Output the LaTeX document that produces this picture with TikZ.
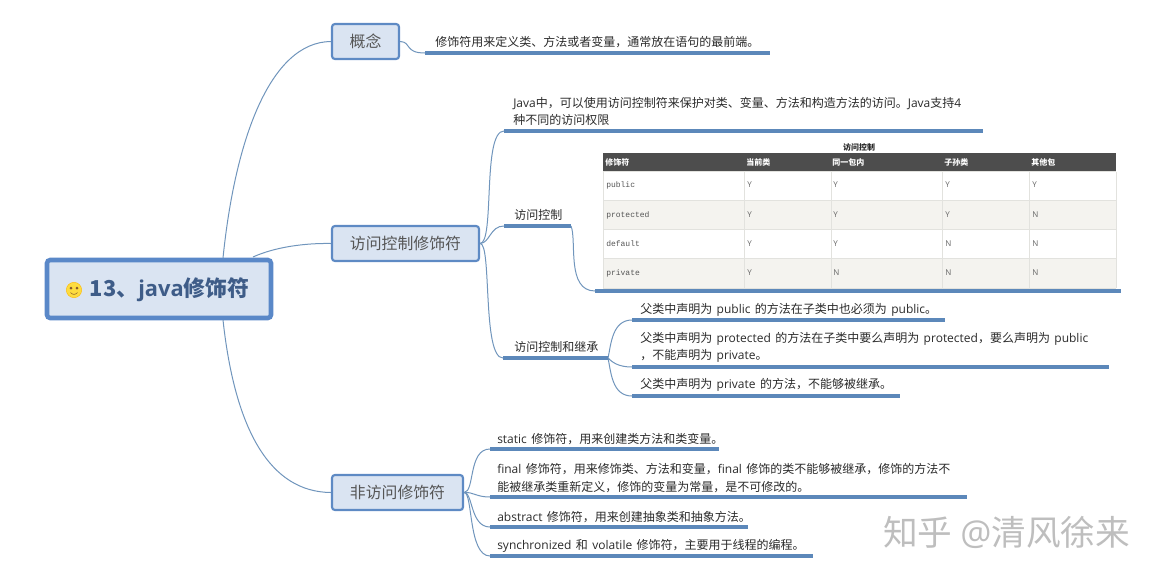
\documentclass[tikz,border=0pt]{standalone}
\usepackage{fontspec}
\setmainfont{Noto Sans CJK SC}
\newfontfamily\lat{Open Sans}
\newfontfamily\tmono{Liberation Mono}
\newcommand{\LL}[1]{{\lat #1}}
\newcommand{\ws}{\hspace{3.3pt}}
\newcommand{\lowr}[1]{\raisebox{-0.7pt}{#1}}
\definecolor{nodefill}{HTML}{DAE4F2}
\definecolor{nodeline}{HTML}{5E8AC4}
\definecolor{rootline}{HTML}{5A88C8}
\definecolor{roottext}{HTML}{3E5C88}
\definecolor{conn}{HTML}{7095BC}
\definecolor{ulinec}{HTML}{5C88BA}
\definecolor{txt}{HTML}{2A2A2A}
\definecolor{thead}{HTML}{4D4D4D}
\definecolor{talt}{HTML}{F4F3EF}
\definecolor{tgrid}{HTML}{E2E2DE}
\definecolor{tcell}{HTML}{666666}
\definecolor{wm}{HTML}{BEBEBE}
\tikzset{
  x=0.75pt,y=-0.75pt,
  branch/.style={draw=nodeline,fill=nodefill,rounded corners=2.2pt,line width=1.6pt,inner sep=0pt,text=txt!80,font=\fontsize{11.9}{14}\selectfont},
  rootbox/.style={draw=rootline,fill=nodefill,rounded corners=2.4pt,line width=3.4pt,inner sep=0pt,minimum width=168pt,minimum height=43.5pt},
  leaf/.style={anchor=west,inner sep=0pt,align=left,text=txt,font=\fontsize{9}{12.9}\selectfont},
  link/.style={draw=conn,line width=0.75pt},
  uline/.style={draw=ulinec,line width=2.6pt},
  chead/.style={anchor=west,inner sep=0pt,text=white,font=\bfseries\fontsize{6}{7}\selectfont},
  cmono/.style={anchor=west,inner sep=0pt,text=txt!80,font=\tmono\fontsize{6}{7}\selectfont},
  ccell/.style={anchor=west,inner sep=0pt,text=tcell,font=\lat\fontsize{6}{7}\selectfont},
}
\begin{document}
\begin{tikzpicture}
\useasboundingbox (0,0) rectangle (1164,579);
% table
\fill[thead] (603,153) rectangle (1116,171.5);
\fill[talt] (603,200) rectangle (1116,229.5);
\fill[talt] (603,258.5) rectangle (1116,288);
\foreach \yy in {171.5,200,229.5,258.5,288} \draw[tgrid,line width=0.5pt] (603,\yy) -- (1116,\yy);
\foreach \xx in {603,744,831,942,1029,1116} \draw[tgrid,line width=0.5pt] (\xx,171.5) -- (\xx,288);
\node[inner sep=0pt,text=txt,font=\bfseries\fontsize{6}{7}\selectfont] (ttitle) at (859,147.5) {访问控制};
\node[chead] (h1) at (605,162) {修饰符};
\node[chead] (h2) at (746,162) {当前类};
\node[chead] (h3) at (832,162) {同一包内};
\node[chead] (h4) at (944,162) {子孙类};
\node[chead] (h5) at (1031,162) {其他包};
\node[cmono] (r1) at (606,185.5) {public};
\node[cmono] (r2) at (606,215) {protected};
\node[cmono] (r3) at (606,244) {default};
\node[cmono] (r4) at (606,273.5) {private};
\node[ccell] (c11) at (747,185) {Y};
\node[ccell] (c12) at (833,185) {Y};
\node[ccell] (c13) at (945,185) {Y};
\node[ccell] (c14) at (1032,185) {Y};
\node[ccell] (c21) at (747,214.5) {Y};
\node[ccell] (c22) at (833,214.5) {Y};
\node[ccell] (c23) at (945,214.5) {Y};
\node[ccell] (c24) at (1032,214.5) {N};
\node[ccell] (c31) at (747,243.5) {Y};
\node[ccell] (c32) at (833,243.5) {Y};
\node[ccell] (c33) at (945,243.5) {N};
\node[ccell] (c34) at (1032,243.5) {N};
\node[ccell] (c41) at (747,273) {Y};
\node[ccell] (c42) at (833,273) {N};
\node[ccell] (c43) at (945,273) {N};
\node[ccell] (c44) at (1032,273) {N};
% free connector ends
\coordinate (rt1) at (223,258);
\coordinate (rt2) at (253,257);
\coordinate (rt3) at (223,320);
\coordinate (u1a) at (425,53);   \coordinate (u1b) at (770,53);
\coordinate (u2a) at (504,131);  \coordinate (u2b) at (983,131);
\coordinate (u3a) at (504,226);  \coordinate (u3b) at (571,226);
\coordinate (u4a) at (595,291);  \coordinate (u4b) at (1121,291);
\coordinate (u5a) at (503,358);  \coordinate (u5b) at (608,358);
\coordinate (u6a) at (632,320);  \coordinate (u6b) at (945,320);
\coordinate (u7a) at (632,367);  \coordinate (u7b) at (1109,367);
\coordinate (u8a) at (632,396);  \coordinate (u8b) at (900,396);
\coordinate (u9a) at (490,449);  \coordinate (u9b) at (719,449);
\coordinate (uAa) at (490,497);  \coordinate (uAb) at (967,497);
\coordinate (uBa) at (490,527);  \coordinate (uBb) at (748,527);
\coordinate (uCa) at (490,556);  \coordinate (uCb) at (813,556);
% boxes
\node[rootbox] (root) at (159,289) {};
\node[inner sep=0pt,anchor=west,text=roottext,font=\bfseries\fontsize{16.4}{20}\selectfont] (roott) at (89.5,290) {13、\LL{java}修饰符};
\node[circle,inner sep=0pt,minimum size=11.5pt,fill=yellow!70!orange!75,draw=orange!55!yellow,line width=0.3pt] (smile) at (74,290) {};
\fill[brown!70!black] (71,288) circle (1.5);
\fill[brown!70!black] (77,288) circle (1.5);
\draw[brown!70!black,line width=0.4pt] (70.5,292.5) .. controls (72.5,295) and (75.5,295) .. (77.5,292.5);
\node[branch,minimum width=50.25pt,minimum height=26.25pt] (a) at (365.5,41.5) {\lowr{概念}};
\node[branch,minimum width=110.25pt,minimum height=26.25pt] (b) at (405.5,243.5) {\lowr{访问控制修饰符}};
\node[branch,minimum width=98.25pt,minimum height=26.25pt] (c) at (397.5,492.5) {\lowr{非访问修饰符}};
% connectors
\draw[link] (rt1) .. controls (235,140) and (270,42) .. (a.west);
\draw[link] (rt2) .. controls (275,247) and (305,243) .. (b.west);
\draw[link] (rt3) .. controls (235,430) and (270,492) .. (c.west);
\draw[link] (a.east) .. controls (412,42) and (404,53) .. (u1a);
\draw[link] (b.east) .. controls (495,243) and (482,131) .. (u2a);
\draw[link] (b.east) .. controls (490,243) and (490,226) .. (u3a);
\draw[link] (b.east) .. controls (492,243) and (482,358) .. (u5a);
\draw[link] (u3b) .. controls (577,240) and (566,291) .. (u4a);
\draw[link] (u5b) .. controls (611,345) and (612,320) .. (u6a);
\draw[link] (u5b) .. controls (612,362) and (618,367) .. (u7a);
\draw[link] (u5b) .. controls (611,372) and (612,396) .. (u8a);
\draw[link] (c.east) .. controls (475,492) and (468,449) .. (u9a);
\draw[link] (c.east) .. controls (474,492) and (476,497) .. (uAa);
\draw[link] (c.east) .. controls (473,492) and (470,527) .. (uBa);
\draw[link] (c.east) .. controls (473,492) and (468,556) .. (uCa);
% underlines
\foreach \uu in {1,2,3,4,5,6,7,8,9,A,B,C} \draw[uline] (u\uu a) -- (u\uu b);
% leaf texts
\node[leaf] (t1) at (435,42.5) {修饰符用来定义类、方法或者变量，通常放在语句的最前端。};
\node[leaf] (t2) at (513,111.5) {\LL{Java}中，可以使用访问控制符来保护对类、变量、方法和构造方法的访问。\LL{Java}支持\LL{4}\\种不同的访问权限};
\node[leaf] (t3) at (514,215) {访问控制};
\node[leaf] (t5) at (514,347) {访问控制和继承};
\node[leaf] (t6) at (640,310) {父类中声明为\ws\LL{public}\ws 的方法在子类中也必须为\ws\LL{public}。};
\node[leaf] (t7) at (640,347.5) {父类中声明为\ws\LL{protected}\ws 的方法在子类中要么声明为\ws\LL{protected}，要么声明为\ws\LL{public}\\，不能声明为\ws\LL{private}。};
\node[leaf] (t8) at (640,385) {父类中声明为\ws\LL{private}\ws 的方法，不能够被继承。};
\node[leaf] (t9) at (497,439) {\LL{static}\ws 修饰符，用来创建类方法和类变量。};
\node[leaf] (tA) at (497,478) {\LL{final}\ws 修饰符，用来修饰类、方法和变量，\LL{final}\ws 修饰的类不能够被继承，修饰的方法不\\能被继承类重新定义，修饰的变量为常量，是不可修改的。};
\node[leaf] (tB) at (497,517) {\LL{abstract}\ws 修饰符，用来创建抽象类和抽象方法。};
\node[leaf] (tC) at (497,546) {\LL{synchronized}\ws 和\ws\LL{volatile}\ws 修饰符，主要用于线程的编程。};
% watermark
\node[inner sep=0pt,anchor=west,text=wm,font=\fontsize{26}{29}\selectfont] (wmk) at (883,532) {知乎 \LL{@}清风徐来};
\end{tikzpicture}
\end{document}
